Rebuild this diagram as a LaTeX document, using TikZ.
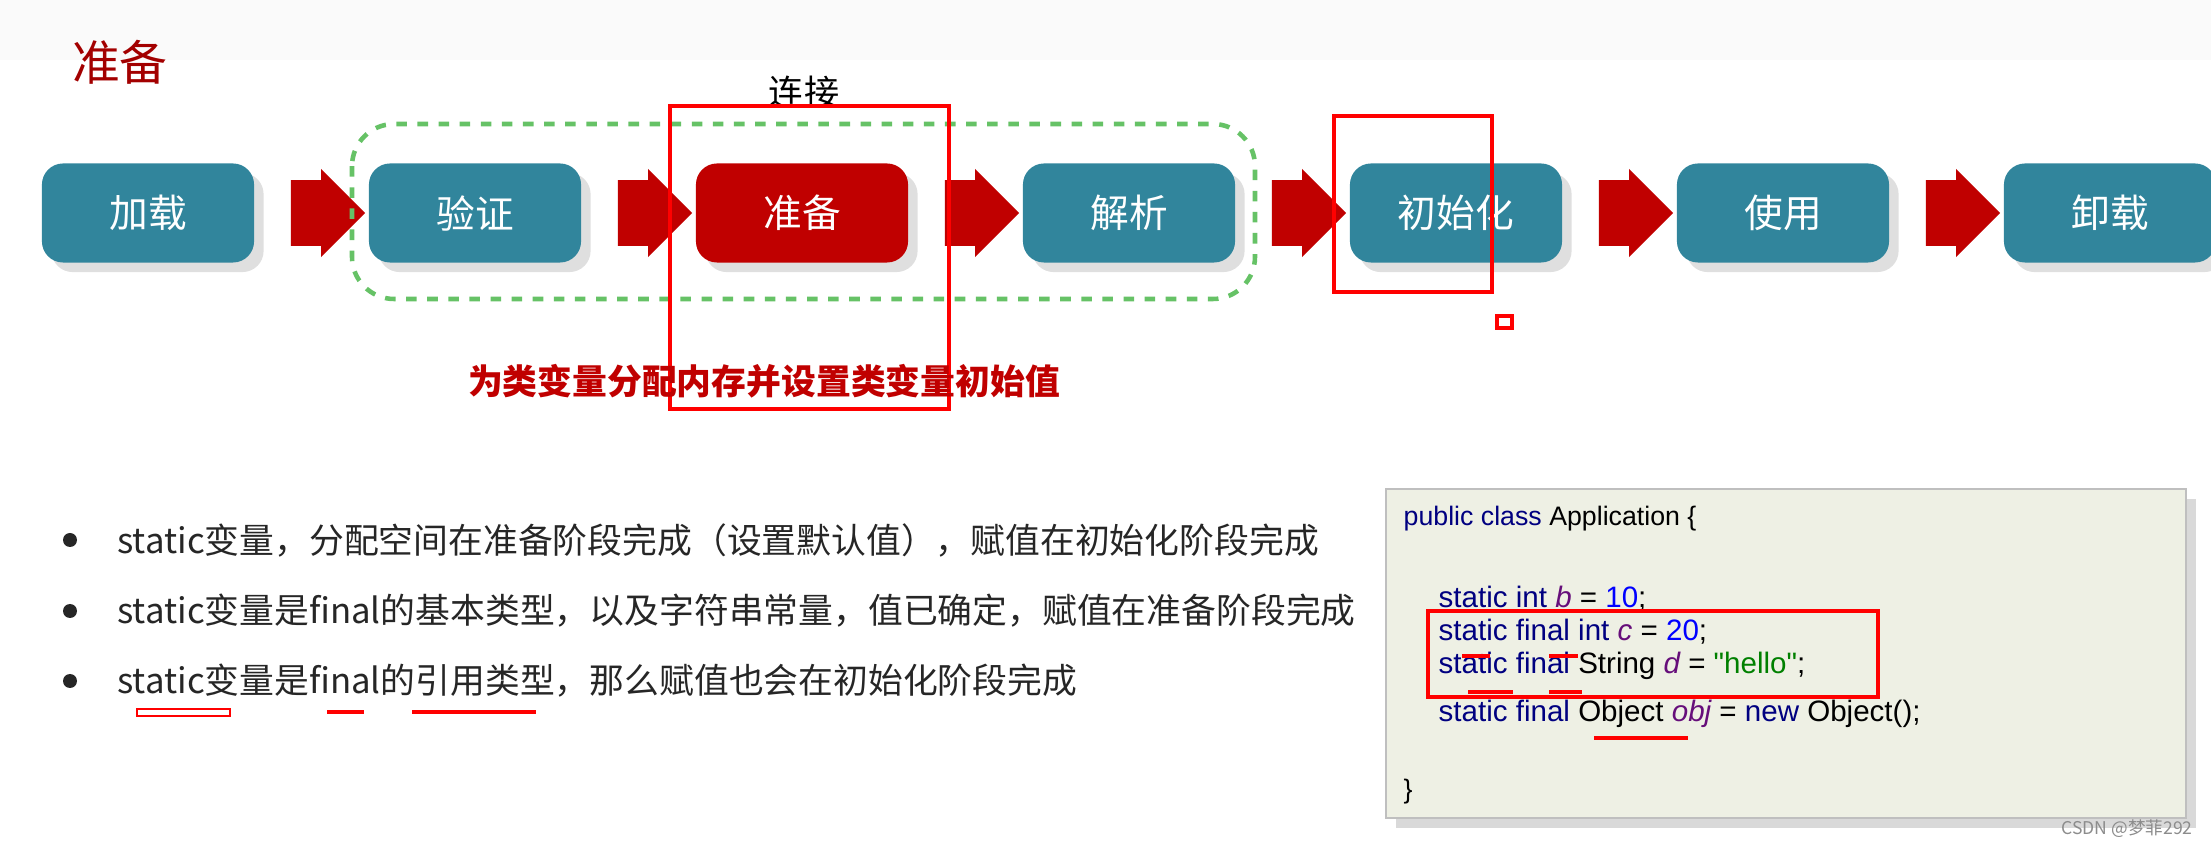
\documentclass[tikz,border=0pt]{standalone}
\usepackage{fontspec}
\setmainfont{Noto Sans CJK SC}
\newfontfamily\codefont{Liberation Sans}
\usetikzlibrary{shapes.arrows,shadows}
\definecolor{stageblue}{HTML}{31859C}
\definecolor{stagered}{HTML}{C00000}
\definecolor{kwblue}{HTML}{000080}
\definecolor{varpurple}{HTML}{660E7A}
\definecolor{numblue}{HTML}{0000FF}
\definecolor{strgreen}{HTML}{008000}
\definecolor{codebg}{HTML}{EEF0E4}
\newcommand{\kw}[1]{\textcolor{kwblue}{#1}}
\newcommand{\vr}[1]{\textcolor{varpurple}{\itshape #1}}
\newcommand{\nm}[1]{\textcolor{numblue}{#1}}
\begin{document}
\begin{tikzpicture}[x=0.01cm,y=-0.01cm]
	\tikzset{
		stage/.style={rounded corners=6pt,fill=stageblue,text=white,minimum width=2.12cm,
			minimum height=0.99cm,font=\fontsize{11}{13}\selectfont,drop shadow={opacity=0.25}},
		stagearrow/.style={single arrow,fill=stagered,minimum height=0.74cm,minimum width=0.88cm,
			single arrow head extend=0.07cm,single arrow head indent=0pt,inner sep=0.2cm},
		redmark/.style={draw=red,line width=1.3pt},
		bullettext/.style={anchor=west,font=\fontsize{9.9}{12}\selectfont,text=black!85},
		codeline/.style={anchor=west,font=\codefont\fontsize{8.4}{10}\selectfont,inner sep=0pt}
	}
	\useasboundingbox (0,0) rectangle (2211,855);
	\fill[black!2] (0,0) rectangle (2211,60);
	\node[text=stagered!85!black,font=\fontsize{13.6}{16}\selectfont] (title) at (120,62) {准备};

	% stages
	\node[stage] (jiazai) at (148,213) {加载};
	\node[stage] (yanzheng) at (475,213) {验证};
	\node[stage,fill=stagered] (zhunbei) at (802,213) {准备};
	\node[stage] (jiexi) at (1129,213) {解析};
	\node[stage] (chushihua) at (1456,213) {初始化};
	\node[stage] (shiyong) at (1783,213) {使用};
	\node[stage] (xiezai) at (2110,213) {卸载};
	\foreach \a/\b in {jiazai/yanzheng,yanzheng/zhunbei,zhunbei/jiexi,jiexi/chushihua,chushihua/shiyong,shiyong/xiezai}
		\path (\a.east) -- (\b.west) node[midway,stagearrow] {};

	% linking group
	\draw[green!60!black!60,dashed,line width=1.3pt,rounded corners=12pt] (352,124) rectangle (1255,299);
	\node[font=\fontsize{10}{12}\selectfont] (lianjie) at (804,92) {连接};
	\draw[redmark] (670,106) rectangle (949,409);
	\draw[redmark] (1334,116) rectangle (1492,292);
	\draw[red,line width=1pt] (1497,316) rectangle (1512,328);
	\node[text=stagered,font=\bfseries\fontsize{9.9}{12}\selectfont] (note) at (764,381) {为类变量分配内存并设置类变量初始值};

	% bullets
	\foreach \y/\t in {540/{static变量，分配空间在准备阶段完成（设置默认值），赋值在初始化阶段完成},
		611/{static变量是final的基本类型，以及字符串常量，值已确定，赋值在准备阶段完成},
		681/{static变量是final的引用类型，那么赋值也会在初始化阶段完成}}{
		\fill[black!85] (70,\y) circle (7);
		\node[bullettext] at (105,\y) {\t};
	}
	\draw[red,line width=0.8pt] (137,709) rectangle (230,716);
	\draw[redmark] (327,712) -- (364,712);
	\draw[redmark] (412,712) -- (536,712);

	% code
	\draw[black!25,fill=codebg,drop shadow={opacity=0.3}] (1386,489) rectangle (2186,818);
	\node[codeline,font=\codefont\fontsize{7.6}{9}\selectfont] (c1) at (1403,519) {\kw{public class} Application \{};
	\node[codeline] (c2) at (1438,599) {\kw{static int} \vr{b} = \nm{10};};
	\node[codeline] (c3) at (1438,632) {\kw{static final int} \vr{c} = \nm{20};};
	\node[codeline] (c4) at (1438,666) {\kw{static final} String \vr{d} = \textcolor{strgreen}{"hello"};};
	\node[codeline] (c5) at (1438,714) {\kw{static final} Object \vr{obj} = \kw{new} Object();};
	\node[codeline,font=\codefont\fontsize{7.6}{9}\selectfont] (c6) at (1403,792) {\}};
	\draw[redmark] (1428,611) rectangle (1878,697);
	\draw[redmark] (1462,656) -- (1490,656);
	\draw[redmark] (1549,656) -- (1578,656);
	\draw[redmark] (1468,692) -- (1513,692);
	\draw[redmark] (1549,692) -- (1582,692);
	\draw[redmark] (1594,738) -- (1688,738);
	\node[anchor=south east,text=black!45,font=\fontsize{5}{6}\selectfont] (csdn) at (2205,850) {CSDN @梦菲292};
\end{tikzpicture}
\end{document}
